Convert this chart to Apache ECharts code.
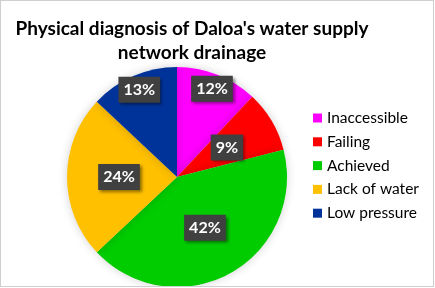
<!DOCTYPE html>
<html>
<head>
<meta charset="utf-8">
<script src="https://cdn.jsdelivr.net/npm/echarts@6/dist/echarts.min.js"></script>
<style>
html,body{margin:0;padding:0;background:#fff;}
#c{width:434px;height:287px;border:1px solid #cfcfcf;box-sizing:border-box;}
</style>
</head>
<body>
<div id="c"></div>
<script>
var categories = ['Inaccessible', 'Failing', 'Achieved', 'Lack of water', 'Low pressure'];
var values = [12, 9, 42, 24, 13];
var colors = ['#FF00FF', '#FF0000', '#00CC00', '#FFC000', '#003399'];
var outerLabelItems = ['Inaccessible', 'Low pressure'];

var FONT = 'Lato';
var chart = echarts.init(document.getElementById('c'));

var labelStyle = {
  show: true,
  formatter: '{c}%',
  color: '#fff',
  fontFamily: FONT,
  fontWeight: 'bold',
  fontSize: 16,
  backgroundColor: '#404040',
  padding: [6, 5, 4, 5],
  shadowColor: 'rgba(0,0,0,0.45)',
  shadowBlur: 3,
  shadowOffsetX: 2,
  shadowOffsetY: 2
};

function mainData() {
  return categories.map(function (n, i) {
    var outer = outerLabelItems.indexOf(n) >= 0;
    return { name: n, value: values[i], itemStyle: { color: colors[i] },
      label: { show: !outer } };
  });
}
function outerData() {
  return categories.map(function (n, i) {
    var outer = outerLabelItems.indexOf(n) >= 0;
    return { name: n, value: values[i], itemStyle: { color: 'transparent' },
      label: { show: outer } };
  });
}

chart.setOption({
  animation: false,
  title: {
    text: "Physical diagnosis of Daloa's water supply\nnetwork drainage",
    left: 186, top: 11, textAlign: 'center',
    textStyle: { fontFamily: FONT, fontWeight: 'bold', fontSize: 19, lineHeight: 24, color: '#000' }
  },
  legend: {
    orient: 'vertical', left: 312, top: 109, padding: 0,
    itemWidth: 9, itemHeight: 9, itemGap: 7.8,
    icon: 'rect',
    data: categories,
    textStyle: { fontFamily: FONT, fontSize: 15.5, color: '#000' }
  },
  series: [
    {
      type: 'pie', center: [176, 176], radius: [0, 110],
      startAngle: 90, clockwise: true,
      label: Object.assign({ position: 'inside' }, labelStyle),
      labelLine: { show: false },
      itemStyle: { shadowColor: 'rgba(0,0,0,0.18)', shadowBlur: 10 },
      emphasis: { disabled: true },
      data: mainData()
    },
    {
      type: 'pie', center: [176, 176], radius: [0, 184],
      startAngle: 90, clockwise: true, silent: true,
      label: Object.assign({ position: 'inside' }, labelStyle),
      labelLine: { show: false },
      legendHoverLink: false,
      emphasis: { disabled: true },
      data: outerData()
    }
  ]
});
</script>
</body>
</html>
